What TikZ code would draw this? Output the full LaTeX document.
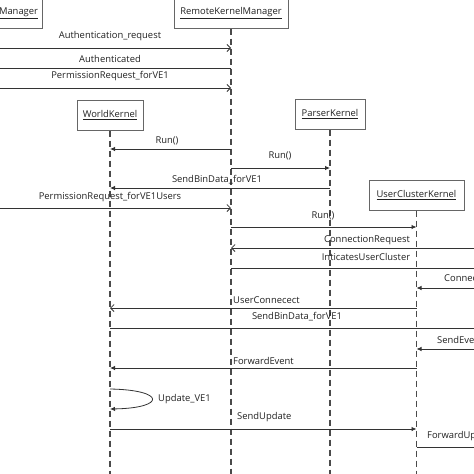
\documentclass[tikz,border=0pt]{standalone}
\usepackage{fontspec}
\setmainfont{Open Sans}
\usepackage{xcolor}
\usepackage{tikz}
\usetikzlibrary{positioning, arrows.meta, calc}
\definecolor{LineGray}{HTML}{333333}
\definecolor{LifeGray}{HTML}{4A4A4A}
\definecolor{BoxGray} {HTML}{666666}
\definecolor{InkGray} {HTML}{222222}
\tikzset{
  actor/.style={draw=BoxGray, line width=1pt, fill=white, minimum height=30pt,
                inner xsep=4pt, font=\fontsize{9.4}{10}\selectfont, text=InkGray},
  lifeline/.style={LifeGray, line width=1.3pt, dash pattern=on 6pt off 4pt},
  msg/.style={LineGray, line width=0.8pt},
  callmsg/.style={msg, -{Latex[length=5pt, width=4.5pt]}},
  asyncmsg/.style={msg, -{Straight Barb[length=3.5pt, width=7pt]}},
  lbl/.style={font=\fontsize{9.4}{10}\selectfont, text=InkGray, inner sep=1pt},
}

\begin{document}
\begin{tikzpicture}[x=1pt, y=-1pt]
      \useasboundingbox (0,0) rectangle (474,474);
      \fill[white] (0,0) rectangle (474,474);
      \clip (0,0) rectangle (474,474);

      % participants
      \node[actor, minimum width=122pt, text width=114pt, align=right] (mgr) at (-19,13) {\underline{Manager}};
      \node[actor, minimum width=114pt] (rkm) at (231,13)    {\underline{RemoteKernelManager}};
      \node[actor, minimum width=66pt]  (wk)  at (110,115)   {\underline{WorldKernel}};
      \node[actor, minimum width=70pt]  (pk)  at (330,114)   {\underline{ParserKernel}};
      \node[actor, minimum width=95pt]  (uck) at (416.5,195) {\underline{UserClusterKernel}};
      \coordinate (offr) at (500,0);

      % lifelines
      \draw[lifeline] (rkm.south) -- (rkm |- 0,474);
      \draw[lifeline] (wk.south)  -- (wk  |- 0,474);
      \draw[lifeline] (pk.south)  -- (pk  |- 0,474);
      \draw[lifeline] (uck.south) -- (uck |- 0,474);

      % messages
      \draw[asyncmsg] (mgr |- 0,48)  -- (rkm |- 0,48);
      \draw[msg]      (rkm |- 0,68)  -- (mgr |- 0,68);
      \draw[asyncmsg] (mgr |- 0,88)  -- (rkm |- 0,88);
      \draw[callmsg]  (rkm |- 0,149) -- (wk  |- 0,149);
      \draw[callmsg]  (rkm |- 0,168) -- (pk  |- 0,168);
      \draw[callmsg]  (pk  |- 0,188) -- (wk  |- 0,188);
      \draw[asyncmsg] (mgr |- 0,208) -- (rkm |- 0,208);
      \draw[callmsg]  (rkm |- 0,227) -- (uck |- 0,227);
      \draw[asyncmsg] (offr |- 0,248) -- (rkm |- 0,248);
      \draw[msg]      (rkm |- 0,268) -- (offr |- 0,268);
      \draw[callmsg]  (offr |- 0,288) -- (uck |- 0,288);
      \draw[asyncmsg] (uck |- 0,308) -- (wk  |- 0,308);
      \draw[msg]      (wk  |- 0,328) -- (offr |- 0,328);
      \draw[callmsg]  (offr |- 0,349) -- (uck |- 0,349);
      \draw[callmsg]  (uck |- 0,368) -- (wk  |- 0,368);
      \draw[callmsg]  (wk  |- 0,389) .. controls (166,390) and (166,408) .. (wk |- 0,409);
      \draw[callmsg]  (wk  |- 0,429) -- (uck |- 0,429);
      \draw[msg]      (uck |- 0,447) -- (offr |- 0,447);

      % labels
      \node[lbl] (lAuthReq)  at (110,36)  {Authentication\_request};
      \node[lbl] (lAuthOk)   at (110,59)  {Authenticated};
      \node[lbl] (lPermVE)   at (110,76)  {PermissionRequest\_forVE1};
      \node[lbl] (lRunWk)    at (167,141) {Run()};
      \node[lbl] (lRunPk)    at (280,156) {Run()};
      \node[lbl] (lBinWk)    at (217,180) {SendBinData\_forVE1};
      \node[lbl] (lPermUsr)  at (110,197) {PermissionRequest\_forVE1Users};
      \node[lbl] (lRunUck)   at (323,216) {Run()};
      \node[lbl] (lConnReq)  at (367,240) {ConnectionRequest};
      \node[lbl] (lIndic)    at (366,257) {InticatesUserCluster};
      \node[lbl, anchor=west] (lConn)    at (443,278) {Connect};
      \node[lbl, anchor=west] (lUsrConn) at (232,300) {UserConnecect};
      \node[lbl] (lBinOut)   at (297,317) {SendBinData\_forVE1};
      \node[lbl, anchor=west] (lSendEv)  at (436,340) {SendEvent};
      \node[lbl, anchor=west] (lFwdEv)   at (232,361) {ForwardEvent};
      \node[lbl, anchor=west] (lUpd)     at (157,399) {Update\_VE1};
      \node[lbl, anchor=west] (lSendUp)  at (236,417) {SendUpdate};
      \node[lbl, anchor=west] (lFwdUp)   at (426,436) {ForwardUpdate};
    \end{tikzpicture}
\end{document}
